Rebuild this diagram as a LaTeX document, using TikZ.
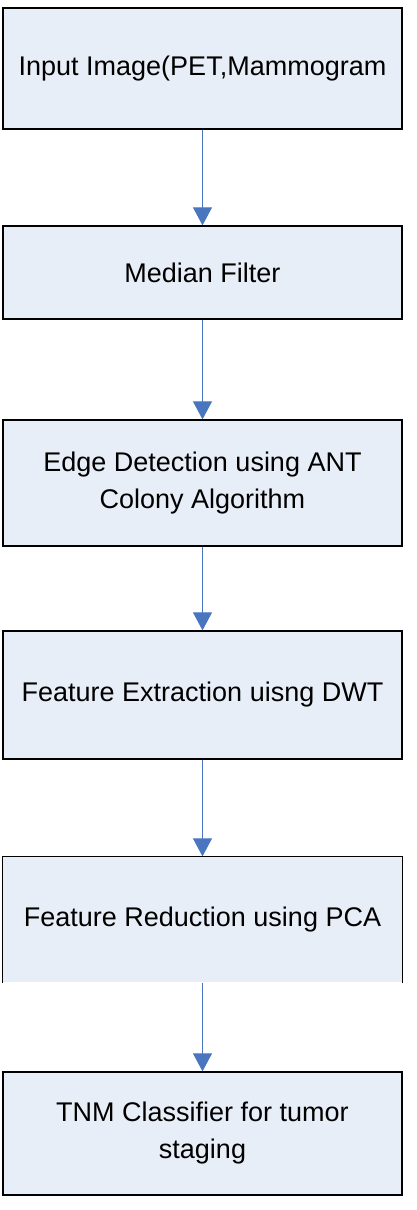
\documentclass[tikz,border=0pt]{standalone}
\usepackage{fontspec}
\setmainfont{Liberation Sans}
\usetikzlibrary{arrows.meta}
\definecolor{boxfill}{HTML}{E8EEF7}
\definecolor{arrowblue}{HTML}{4A76C0}
\tikzset{
  stepbox/.style={fill=boxfill, draw=black, line width=1.3pt, minimum width=399pt,
    inner sep=0pt, align=center, font=\fontsize{27}{37}\selectfont, anchor=center},
  openbox/.style={stepbox, draw=none},
  flow/.style={draw=arrowblue, line width=1pt, -{Triangle[width=19pt,length=18pt]}, arrowblue}
}
\begin{document}
\begin{tikzpicture}[x=1pt,y=1pt]
\useasboundingbox (0,0) rectangle (417,-1210);
\node[stepbox, minimum height=121pt] (b1) at (202.5,-68.5) {Input Image(PET,Mammogram};
\node[stepbox, minimum height=93pt] (b2) at (202.5,-272.5) {Median Filter};
\node[stepbox, minimum height=126pt] (b3) at (202.5,-483) {Edge Detection using ANT\\Colony Algorithm};
\node[stepbox, minimum height=128pt] (b4) at (202.5,-695) {Feature Extraction uisng DWT};
\node[openbox, minimum height=125pt] (b5) at (202.5,-919.5) {Feature Reduction using PCA};
\draw[line width=1.3pt] (b5.south west) -- (b5.north west) -- (b5.north east) -- (b5.south east);
\node[stepbox, minimum height=123pt] (b6) at (202.5,-1133.5) {TNM Classifier for tumor\\staging};
\draw[flow] (b1.south) -- (b2.north);
\draw[flow] (b2.south) -- (b3.north);
\draw[flow] (b3.south) -- (b4.north);
\draw[flow] (b4.south) -- (b5.north);
\draw[flow] (b5.south) -- (b6.north);
\end{tikzpicture}
\end{document}
